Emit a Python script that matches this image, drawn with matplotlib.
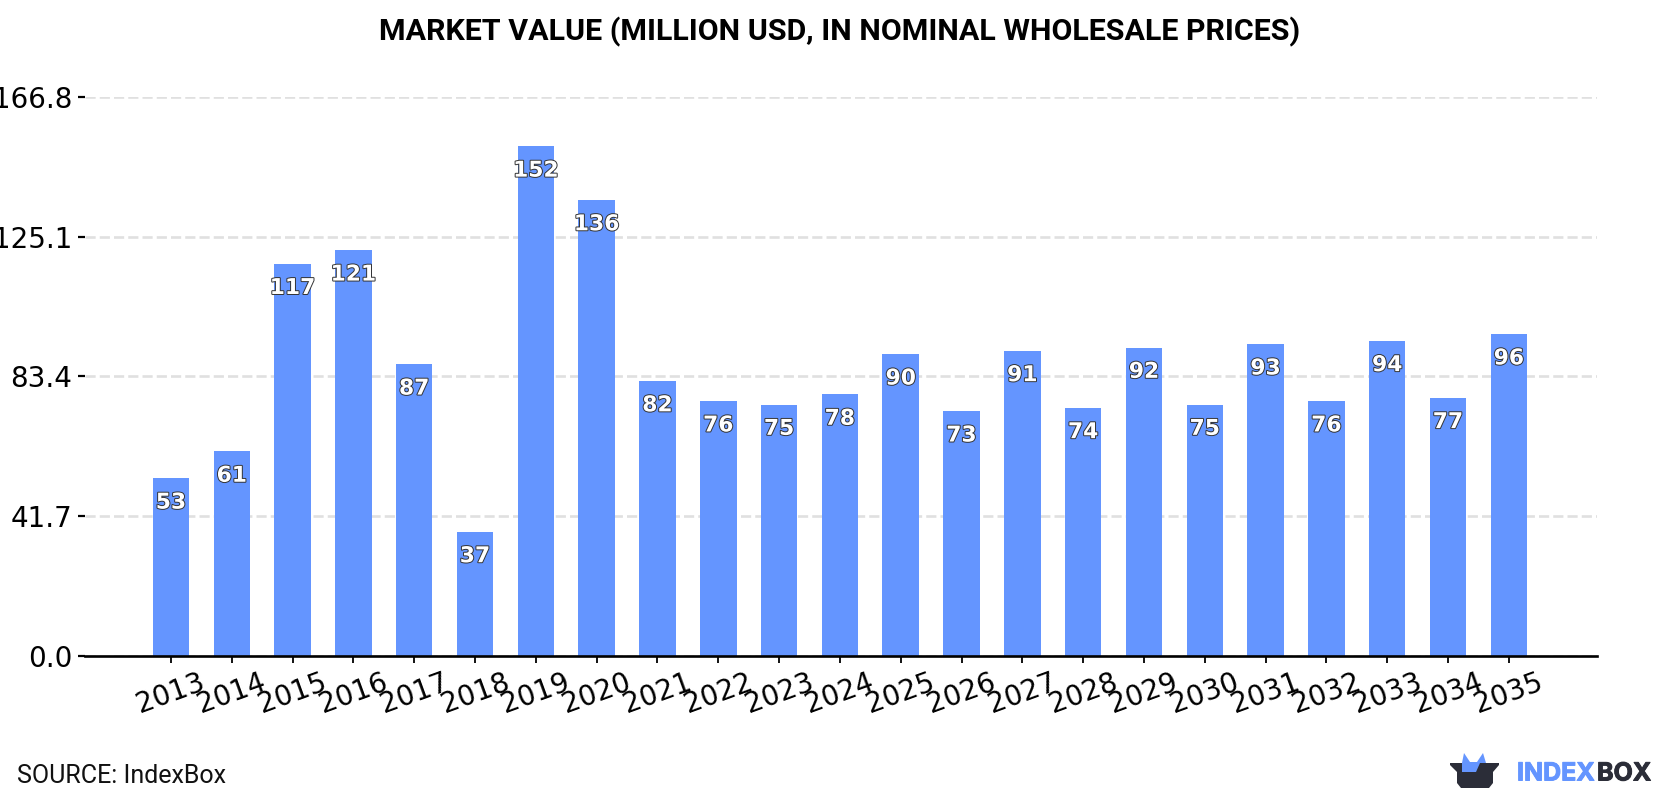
import matplotlib
matplotlib.use("Agg")
import matplotlib.pyplot as plt
import matplotlib.patheffects as pe
from matplotlib.patches import Polygon

years = [str(y) for y in range(2013, 2036)]
values = [53, 61, 117, 121, 87, 37, 152, 136, 82, 76, 75, 78, 90, 73, 91, 74, 92, 75, 93, 76, 94, 77, 96]
y_ticks = [0.0, 41.7, 83.4, 125.1, 166.8]

W, H = 1680, 800
BLUE = "#6495ff"
DARK = "#2b2d38"

fig = plt.figure(figsize=(W / 100, H / 100), dpi=100, facecolor="white")
ax = fig.add_axes([85 / W, 1 - 656 / H, (1597 - 85) / W, (656 - 96.7) / H])

ax.bar(range(len(years)), values, width=0.6, color=BLUE, zorder=2)
ax.set_xlim(-1.414, 23.45)
ax.set_ylim(0, 166.8)

ax.set_yticks(y_ticks)
ax.set_yticklabels([f"{t:.1f}" for t in y_ticks], fontsize=20, color="black")
ax.set_xticks(range(len(years)))
ax.set_xticklabels(years, fontsize=20, rotation=20, color="black")
ax.tick_params(axis="y", length=5, width=1.6, pad=4)
ax.tick_params(axis="x", length=5, width=1.3, pad=4)
ax.yaxis.grid(True, color="#e0e0e0", linestyle=(0, (3.85, 1.55)), linewidth=1.9, zorder=1)
ax.set_axisbelow(True)
for side in ("top", "left", "right"):
    ax.spines[side].set_visible(False)
ax.spines["bottom"].set_linewidth(1.9)
ax.spines["bottom"].set_zorder(3)

# Value labels sit just inside the top of each bar
for i, v in enumerate(values):
    ax.annotate(
        str(v), (i, v), xytext=(0, -17.5), textcoords="offset points",
        ha="center", va="center", fontsize=15.7, fontweight="bold",
        color="white", family="DejaVu Sans", zorder=4,
        path_effects=[pe.withStroke(linewidth=1.4, foreground="#333333")],
    )

fig.text(0.5, 1 - 32 / H, "MARKET VALUE (MILLION USD, IN NOMINAL WHOLESALE PRICES)",
         ha="center", va="center", fontsize=21.9, fontweight="bold",
         family="Roboto", color="black")
fig.text(17 / W, 1 - 776 / H, "SOURCE: IndexBox", ha="left", va="center",
         fontsize=18, family="Roboto", color="#111111")

# Brand mark: an open box with a blue shape rising out of it
logo = fig.add_axes([0, 0, 1, 1], facecolor="none")
logo.set_xlim(0, W)
logo.set_ylim(H, 0)
logo.axis("off")
logo.add_patch(Polygon([(1450, 763), (1499, 763), (1499, 765), (1493, 772), (1493, 783),
                        (1489, 788), (1461, 788), (1457, 783), (1457, 772), (1450, 765)],
                       closed=True, facecolor=DARK, edgecolor="none"))
logo.add_patch(Polygon([(1462, 772), (1462, 763), (1464, 753), (1470, 762), (1477, 762),
                        (1483, 753), (1486, 763), (1480, 763), (1476, 772)],
                       closed=True, facecolor=BLUE, edgecolor="none"))
logo.text(1517, 774, "INDEX", ha="left", va="center", fontsize=18, fontweight="bold",
          family="Inter", color=BLUE,
          path_effects=[pe.withStroke(linewidth=0.7, foreground=BLUE)])
logo.text(1597, 774, "BOX", ha="left", va="center", fontsize=18, fontweight="bold",
          family="Inter", color=DARK,
          path_effects=[pe.withStroke(linewidth=0.7, foreground=DARK)])

fig.savefig("out.png", dpi=100)
